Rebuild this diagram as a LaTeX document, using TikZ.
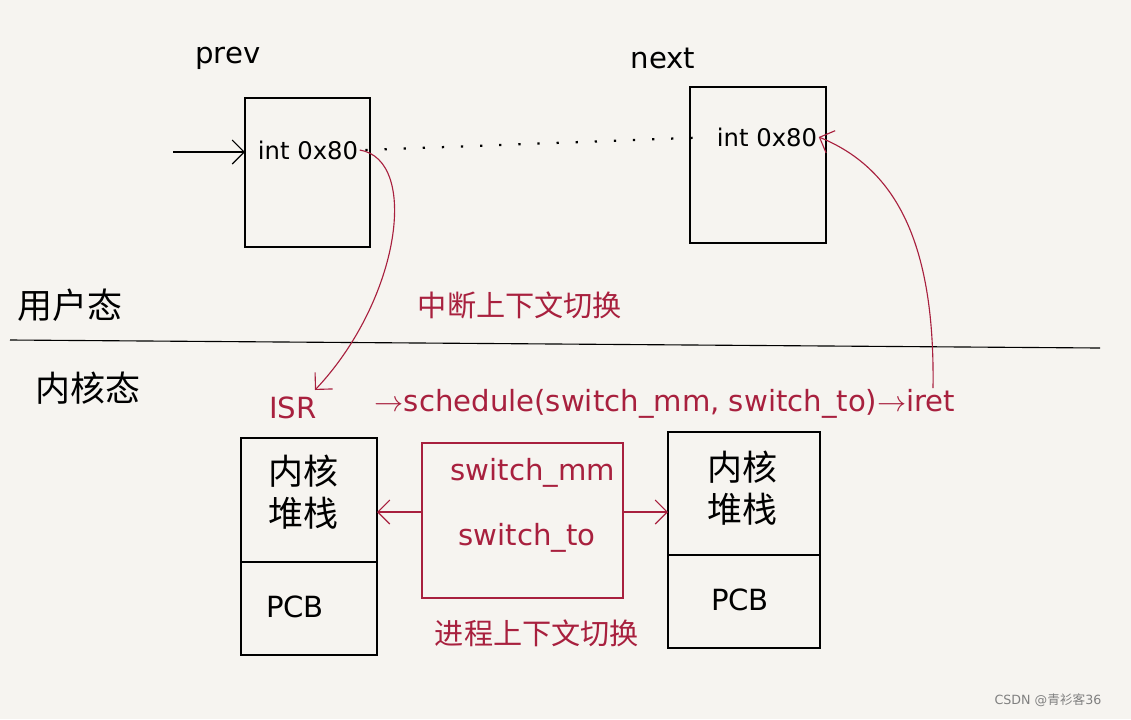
\documentclass[tikz,border=0pt]{standalone}
\usepackage{fontspec}
\setmainfont{DejaVu Sans}
\newfontfamily\cjk{Noto Sans CJK SC}
\usetikzlibrary{arrows.meta}
\definecolor{inkred}{RGB}{168,32,62}
\definecolor{paper}{RGB}{246,244,240}
\tikzset{
    frame/.style={draw, thick},
    redframe/.style={draw=inkred, thick},
    redarrow/.style={inkred, thick, -{Straight Barb[length=3mm]}},
    lbl/.style={font=\huge},
    redlbl/.style={font=\huge, text=inkred},
    cjklbl/.style={font=\Huge\cjk},
    cjkredlbl/.style={font=\huge\cjk, text=inkred},
}
\begin{document}
\begin{tikzpicture}[x=0.025cm, y=-0.025cm]
    \fill[paper] (0,0) rectangle (1131,719);
    % user space
    \node[lbl] (prevlbl) at (228,58) {prev};
    \node[lbl] (nextlbl) at (663,58) {next};
    \draw[frame] (245,98) rectangle (370,247);
    \node[font=\LARGE, inner sep=1pt] (prevint) at (308,150) {int 0x80};
    \draw[frame] (690,87) rectangle (826,243);
    \node[font=\LARGE, inner sep=1pt] (nextint) at (767,137) {int 0x80};
    \coordinate (entry) at (173,152);
    \coordinate (previn) at (245,152);
    \draw[thick, -{Straight Barb[length=3mm]}] (entry) -- (previn);
    \draw[line width=1.6pt, dash pattern=on 1.6pt off 12pt, shorten >=6pt] ([xshift=4pt]prevint.east) -- (nextint.west);
    \node[cjklbl] (user) at (70,305) {用户态};
    \node[cjklbl] (kernel) at (88,388) {内核态};
    \draw[thick] (10,340) -- (1100,348);
    \node[cjkredlbl] (irqsw) at (520,305) {中断上下文切换};
    % kernel path
    \node[redlbl] (isr) at (293,408) {ISR};
    \node[redlbl] (sched) at (665,404) {$\rightarrow$schedule(switch\_mm, switch\_to)$\rightarrow$iret};
    \draw[redarrow] (prevint.east) .. controls (420,160) and (400,300) .. (315,390);
    \coordinate (iretup) at (933,388);
    \draw[redarrow] (iretup) .. controls (935,250) and (900,170) .. (nextint.east);
    % stacks
    \draw[frame] (241,438) rectangle (377,655);
    \draw[thick] (241,562) -- (377,562);
    \node[cjklbl, align=left] (lstack) at (303,492) {内核\\堆栈};
    \node[lbl] (lpcb) at (295,607) {PCB};
    \draw[frame] (668,432) rectangle (820,648);
    \draw[thick] (668,555) -- (820,555);
    \node[cjklbl, align=left] (rstack) at (742,488) {内核\\堆栈};
    \node[lbl] (rpcb) at (740,600) {PCB};
    \draw[redframe] (422,443) rectangle (623,598);
    \node[redlbl] (swmm) at (533,473) {switch\_mm};
    \node[redlbl] (swto) at (527,538) {switch\_to};
    \draw[redarrow] (422,512) -- (377,512);
    \draw[redarrow] (623,512) -- (668,512);
    \node[cjkredlbl] (procsw) at (537,633) {进程上下文切换};
    \node[gray, font=\small] (mark) at (1048,700) {CSDN @{\cjk 青衫客}36};
\end{tikzpicture}
\end{document}
